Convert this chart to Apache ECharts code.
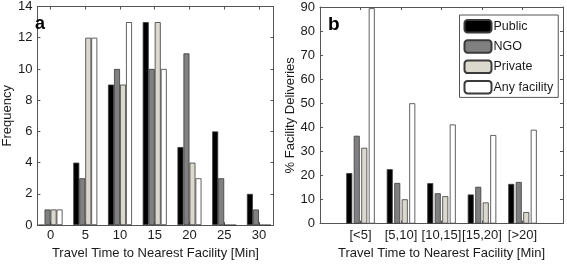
<!DOCTYPE html>
<html><head><meta charset="utf-8">
<script src="https://cdn.jsdelivr.net/npm/echarts@6/dist/echarts.min.js"></script>
<style>html,body{margin:0;padding:0;background:#fff}#c{width:567px;height:265px}</style>
</head><body><div id="c"></div>
<script>
// ---- Panel a data ----
const binsA = [0, 5, 10, 15, 20, 25, 30];
const publicA  = [0, 4, 9, 13, 5, 6, 2];
const ngoA     = [1, 3, 10, 10, 11, 3, 1];
const privateA = [1, 12, 9, 13, 4, 0, 0];
const anyA     = [1, 12, 13, 10, 3, 0, 0];
// ---- Panel b data ----
const catsB = ['[<5]', '[5,10]', '[10,15]', '[15,20]', '[>20]'];
const posB = [1, 2, 3, 4, 5];
const publicB  = [21, 22.6, 16.8, 12.1, 16.5];
const ngoB     = [36.5, 16.9, 12.6, 15.3, 17.3];
const privateB = [31.5, 10.1, 11.4, 8.8, 4.8];
const anyB     = [89.5, 50, 41.2, 36.8, 39];
const yTicksA = [0, 2, 4, 6, 8, 10, 12, 14];
const yTicksB = [0, 10, 20, 30, 40, 50, 60, 70, 80, 90];
const names = ['Public', 'NGO', 'Private', 'Any facility'];

const colors = ['#000000', '#808080', '#dbd8ce', '#ffffff'];
const edge = '#3a3a3a';
const axisCol = '#555';
const txt = '#1a1a1a';
const font = 'Liberation Sans, Arial, sans-serif';
const fs = 13;

function pairs(xs, ys) { return xs.map((x, i) => [x, ys[i]]); }

function xAx(grid, min, max, ticks, pos, showLabel, fmt, nameTxt, nameGap, margin) {
  return {
    type: 'value', gridIndex: grid, min: min, max: max, position: pos,
    splitLine: { show: false },
    axisLine: { show: true, onZero: false, lineStyle: { color: axisCol, width: 1 } },
    axisTick: { show: true, inside: true, length: 3, customValues: ticks, lineStyle: { color: axisCol } },
    axisLabel: { show: showLabel, customValues: ticks, formatter: fmt, color: txt, fontSize: fs, fontFamily: font, margin: margin },
    name: nameTxt, nameLocation: 'middle', nameGap: nameGap,
    nameTextStyle: { color: txt, fontSize: fs, fontFamily: font }
  };
}
function yAx(grid, max, ticks, pos, showLabel, nameTxt, nameGap) {
  return {
    type: 'value', gridIndex: grid, min: 0, max: max, position: pos,
    splitLine: { show: false },
    axisLine: { show: true, onZero: false, lineStyle: { color: axisCol, width: 1 } },
    axisTick: { show: true, inside: true, length: 3, customValues: ticks, lineStyle: { color: axisCol } },
    axisLabel: { show: showLabel, customValues: ticks, color: txt, fontSize: fs, fontFamily: font, margin: 5 },
    name: nameTxt, nameLocation: 'middle', nameGap: nameGap,
    nameTextStyle: { color: txt, fontSize: fs, fontFamily: font }
  };
}

const seriesA = [publicA, ngoA, privateA, anyA].map((d, i) => ({
  type: 'bar', name: names[i], xAxisIndex: 0, yAxisIndex: 0,
  data: pairs(binsA, d), barWidth: 6, barGap: '0%',
  itemStyle: { color: colors[i], borderColor: edge, borderWidth: 0.8 },
  animation: false
}));
const seriesB = [publicB, ngoB, privateB, anyB].map((d, i) => ({
  type: 'bar', name: names[i], xAxisIndex: 2, yAxisIndex: 2,
  data: pairs(posB, d), barWidth: 6, barGap: '25%',
  itemStyle: { color: colors[i], borderColor: edge, borderWidth: 0.8 },
  animation: false
}));

const chart = echarts.init(document.getElementById('c'), null, { renderer: 'canvas' });
chart.setOption({
  animation: false,
  backgroundColor: '#fff',
  title: [
    { text: 'a', left: 35, top: 15, padding: 0, textStyle: { fontSize: 18, fontWeight: 'bold', color: '#000', fontFamily: font } },
    { text: 'b', left: 328, top: 15, padding: 0, textStyle: { fontSize: 19, fontWeight: 'bold', color: '#000', fontFamily: font } }
  ],
  grid: [
    { left: 29, right: 567 - 273.5, top: 5.5, bottom: 265 - 231, containLabel: false },
    { left: 320, right: 4, top: 7, bottom: 265 - 232.5, containLabel: false }
  ],
  xAxis: [
    xAx(0, -1.9, 32.1, binsA, 'bottom', true, v => String(v), 'Travel Time to Nearest Facility [Min]', 15, 4),
    xAx(0, -1.9, 32.1, binsA, 'top', false, null, '', 0, 4),
    xAx(1, 0, 6, posB, 'bottom', true, v => catsB[Math.round(v) - 1], 'Travel Time to Nearest Facility [Min]', 17.5, 5.5),
    xAx(1, 0, 6, posB, 'top', false, null, '', 0, 4)
  ],
  yAxis: [
    yAx(0, 14, yTicksA, 'left', true, 'Frequency', 14),
    yAx(0, 14, yTicksA, 'right', false, '', 0),
    yAx(1, 90, yTicksB, 'left', true, '% Facility Deliveries', 13),
    yAx(1, 90, yTicksB, 'right', false, '', 0)
  ],
  legend: {
    data: names, orient: 'vertical', left: 459.5, top: 15,
    itemWidth: 27, itemHeight: 12.5, itemGap: 5.8,
    padding: [4, 5, 3, 4],
    backgroundColor: '#fff', borderColor: '#555', borderWidth: 1, borderRadius: 0,
    textStyle: { color: txt, fontSize: 12.5, fontFamily: font, padding: [0, 0, 0, -3] },
    selectedMode: false
  },
  series: seriesA.concat(seriesB)
});
</script></body></html>
